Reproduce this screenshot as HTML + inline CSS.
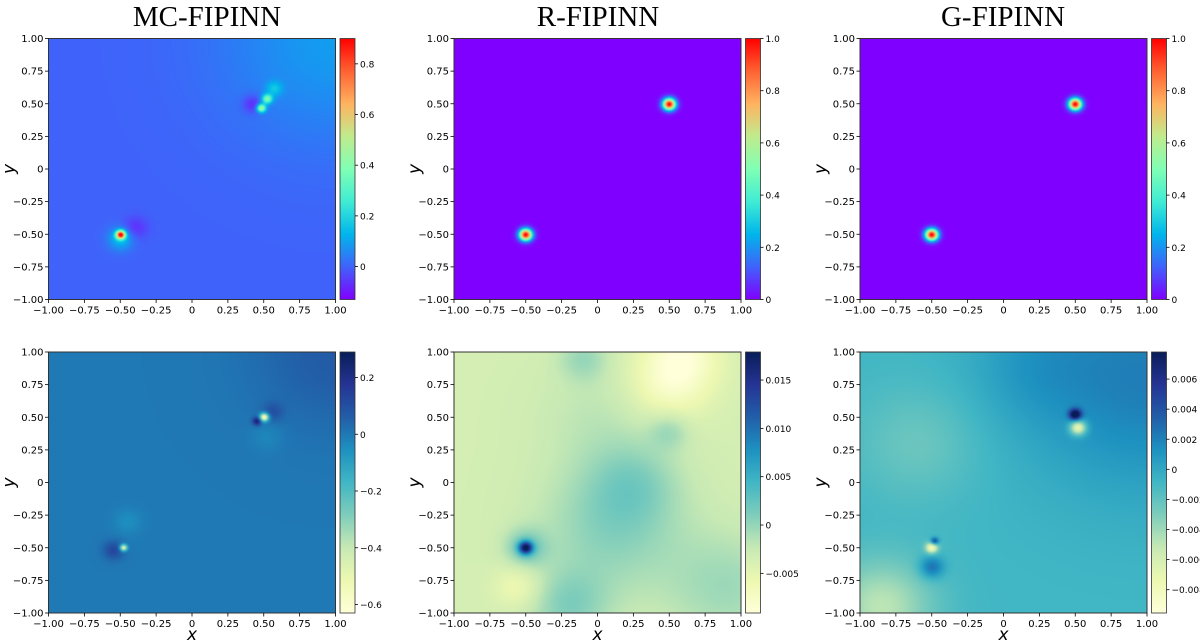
<!DOCTYPE html>
<html><head><meta charset="utf-8">
<style>
body{margin:0;background:#fff;width:1200px;height:643px;overflow:hidden;position:relative;font-family:"DejaVu Sans","Liberation Sans",sans-serif}
canvas{position:absolute}
svg{position:absolute;left:0;top:0}
</style></head>
<body>
<div id="root"></div>
<svg id="ov" width="1200" height="643"></svg>
<script>
// ---- data ----
const titles = ["MC-FIPINN","R-FIPINN","G-FIPINN"];
const axisTicks = [-1,-0.75,-0.5,-0.25,0,0.25,0.5,0.75,1];
const axisTickLabels = ["\u22121.00","\u22120.75","\u22120.50","\u22120.25","0","0.25","0.50","0.75","1.00"];
const cmaps = ["rainbow","rainbow","rainbow","ylgnbu","ylgnbu","ylgnbu"];
const vmins = [-0.13,0,0,-0.63,-0.0091,-0.00955];
const vmaxs = [0.9,1,1,0.29,0.0179,0.0078];
const bases = [0.0,0,0,0.0,-0.0035,-0.0009];
const cbTicks0 = [0,0.2,0.4,0.6,0.8];
const cbTicks1 = [0,0.2,0.4,0.6,0.8,1.0];
const cbTicks2 = [0,0.2,0.4,0.6,0.8,1.0];
const cbTicks3 = [-0.6,-0.4,-0.2,0,0.2];
const cbTicks4 = [-0.005,0,0.005,0.010,0.015];
const cbTicks5 = [-0.008,-0.006,-0.004,-0.002,0,0.002,0.004,0.006];
const cbLabels0 = ["0","0.2","0.4","0.6","0.8"];
const cbLabels1 = ["0","0.2","0.4","0.6","0.8","1.0"];
const cbLabels2 = ["0","0.2","0.4","0.6","0.8","1.0"];
const cbLabels3 = ["\u22120.6","\u22120.4","\u22120.2","0","0.2"];
const cbLabels4 = ["\u22120.005","0","0.005","0.010","0.015"];
const cbLabels5 = ["\u22120.008","\u22120.006","\u22120.004","\u22120.002","0","0.002","0.004","0.006"];
// features: [x, y, amplitude, spread]
const feat0 = [[1,1,0.09,0.55],[-0.5,-0.5,0.85,0.022],[-0.5,-0.53,0.15,0.06],[-0.4,-0.45,-0.07,0.06],[0.48,0.47,0.45,0.022],[0.52,0.54,0.35,0.025],[0.57,0.62,0.12,0.04],[0.42,0.5,-0.1,0.05]];
const feat1 = [[0.5,0.5,1,0.032],[-0.5,-0.5,1,0.032]];
const feat2 = [[0.5,0.5,1,0.032],[-0.5,-0.5,1,0.032]];
const feat3 = [[1,1,0.07,0.4],[0.5,0.5,-0.6,0.022],[0.45,0.47,0.25,0.022],[0.56,0.54,0.08,0.05],[0.52,0.35,-0.04,0.08],[-0.48,-0.5,-0.5,0.018],[-0.55,-0.52,0.12,0.05],[-0.45,-0.3,-0.05,0.07]];
const feat4 = [[0.1,-0.35,0.004,0.35],[0.25,0.0,0.003,0.22],[0.5,0.75,-0.004,0.2],[0.6,1,-0.004,0.18],[-0.5,-0.5,0.017,0.035],[-0.5,-0.5,0.005,0.1],[0.5,0.4,0.003,0.1],[-0.2,-0.95,0.004,0.2],[0.9,-0.8,0.003,0.3],[-0.55,-0.8,-0.003,0.12],[-0.1,0.95,0.003,0.12],[0,0.5,0.0015,0.3]];
const feat5 = [[1,0.8,0.003,0.6],[0.5,0.52,0.009,0.03],[0.52,0.42,-0.008,0.04],[-0.5,-0.5,-0.007,0.03],[-0.48,-0.45,0.006,0.02],[-0.5,-0.65,0.004,0.06],[-0.85,-0.95,-0.004,0.25],[-0.6,0.3,-0.0015,0.3],[0.2,0.9,0.001,0.3]];
const feats=[feat0,feat1,feat2,feat3,feat4,feat5];
const cbTicks=[cbTicks0,cbTicks1,cbTicks2,cbTicks3,cbTicks4,cbTicks5];
const cbLabels=[cbLabels0,cbLabels1,cbLabels2,cbLabels3,cbLabels4,cbLabels5];

// ---- layout ----
const colX=[48.5,454,860], rowY=[38.5,352], PW=287, PH=261;
const stops={rainbow:["#8000ff","#4062fa","#00b5eb","#40ecd4","#80ffb4","#c0eb8d","#ffb360","#ff6232","#ff0000"],
 ylgnbu:["#ffffd9","#edf8b1","#c7e9b4","#7fcdbb","#41b6c4","#1d91c0","#225ea8","#253494","#081d58"]};
function hex(h){return [1,3,5].map(i=>parseInt(h.substr(i,2),16));}
const stopRGB={};for(const k in stops)stopRGB[k]=stops[k].map(hex);
function cmap(name,t){t=Math.max(0,Math.min(1,t));const s=stopRGB[name];const f=t*(s.length-1);const i=Math.min(s.length-2,Math.floor(f));const u=f-i;
 return s[i].map((c,j)=>Math.round(c+(s[i+1][j]-c)*u));}
const NS="http://www.w3.org/2000/svg";
const ov=document.getElementById('ov');
function el(tag,attrs,txt){const e=document.createElementNS(NS,tag);for(const k in attrs)e.setAttribute(k,attrs[k]);if(txt!==undefined)e.textContent=txt;ov.appendChild(e);return e;}

for(let p=0;p<6;p++){
 const r=Math.floor(p/3),c=p%3;const x0=colX[c],y0=rowY[r];
 const sx=v=>x0+(v+1)/2*PW, sy=v=>y0+(1-v)/2*PH;
 const cv=document.createElement('canvas');cv.width=PW;cv.height=PH;cv.style.left=x0+'px';cv.style.top=y0+'px';
 
 
 document.body.insertBefore(cv,ov);
 const ctx=cv.getContext('2d');const img=ctx.createImageData(PW,PH);
 const F=feats[p],vmin=vmins[p],vmax=vmaxs[p];
 for(let j=0;j<PH;j++){const y=1-2*(j+0.5)/PH;for(let i=0;i<PW;i++){const x=-1+2*(i+0.5)/PW;
  let v=bases[p];for(const f of F){const dx=x-f[0],dy=y-f[1];v+=f[2]*Math.exp(-(dx*dx+dy*dy)/(2*f[3]*f[3]));}
  const col=cmap(cmaps[p],(v-vmin)/(vmax-vmin));const k=(j*PW+i)*4;img.data[k]=col[0];img.data[k+1]=col[1];img.data[k+2]=col[2];img.data[k+3]=255;}}
 ctx.putImageData(img,0,0);
 const fr=el('rect',{x:x0,y:y0,width:PW,height:PH,fill:'none',stroke:'#333','stroke-width':1});
 
 
 axisTicks.forEach((t,k)=>{
  el('line',{x1:sx(t),x2:sx(t),y1:y0+PH,y2:y0+PH+3.5,stroke:'#000','stroke-width':0.8});
  const xl=el('text',{x:sx(t),y:y0+PH+14,'font-size':10,'text-anchor':'middle',fill:'#000'},axisTickLabels[k]);
  
  
  el('line',{x1:x0-3.5,x2:x0,y1:sy(t),y2:sy(t),stroke:'#000','stroke-width':0.8});
  const yl=el('text',{x:x0-5,y:sy(t)+3.5,'font-size':10,'text-anchor':'end',fill:'#000'},axisTickLabels[k]);
  
  
 });
 const yt=el('text',{x:x0-34,y:y0+PH/2,'font-size':17,'font-style':'italic','text-anchor':'middle',transform:`rotate(-90 ${x0-34} ${y0+PH/2})`,fill:'#000'},'y');
 
 
 if(r===1){const xt=el('text',{x:x0+PW/2,y:y0+PH+27,'font-size':17,'font-style':'italic','text-anchor':'middle',fill:'#000'},'x');
  
  }
 const cbx=x0+PW+4.5,cbw=15;const gid='g'+p;
 const defs=el('defs',{});const lg=document.createElementNS(NS,'linearGradient');
 lg.setAttribute('id',gid);lg.setAttribute('x1','0');lg.setAttribute('y1','1');lg.setAttribute('x2','0');lg.setAttribute('y2','0');
 stops[cmaps[p]].forEach((s,k,a)=>{const st=document.createElementNS(NS,'stop');st.setAttribute('offset',k/(a.length-1));st.setAttribute('stop-color',s);lg.appendChild(st);});
 defs.appendChild(lg);
 const cb=el('rect',{x:cbx,y:y0,width:cbw,height:PH,fill:`url(#${gid})`,stroke:'#333','stroke-width':0.8});
 
 
 const cy=v=>y0+PH-(v-vmin)/(vmax-vmin)*PH;
 cbTicks[p].forEach((t,k)=>{
  el('line',{x1:cbx+cbw,x2:cbx+cbw+3,y1:cy(t),y2:cy(t),stroke:'#000','stroke-width':0.8});
  const tl=el('text',{x:cbx+cbw+5,y:cy(t)+3.5,'font-size':9,fill:'#000'},cbLabels[p][k]);
  
  
 });
}
const titleX=[207,598,1003];
titles.forEach((t,i)=>{const e=el('text',{x:titleX[i],y:26,'font-size':29,'font-family':'"Liberation Serif",serif','text-anchor':'middle',fill:'#000'},t);
 
 });
</script>
</body></html>
